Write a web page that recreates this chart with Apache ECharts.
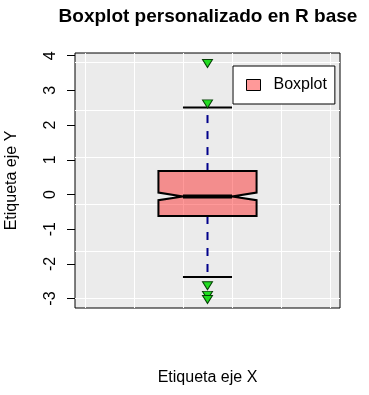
<!DOCTYPE html>
<html>
<head>
<meta charset="utf-8">
<script src="https://cdn.jsdelivr.net/npm/echarts@6/dist/echarts.min.js"></script>
<style>
html, body { margin: 0; padding: 0; background: #fff; }
#main { width: 369px; height: 395px; }
</style>
</head>
<body>
<div id="main"></div>
<script>
// datos
var groups = ['Boxplot'];
var boxStats = [-2.38, -0.62, -0.055, 0.675, 2.505]; // bigote inf, q1, mediana, q3, bigote sup
var notchLimits = [-0.165, 0.055];
var outliers = [3.806, 2.64, -2.60, -2.88, -3.0];
var yTicks = [-3, -2, -1, 0, 1, 2, 3, 4];
var hGrid = [-3.0, -1.639, -0.278, 1.083, 2.445, 3.806];
var vGrid = [0.5, 0.7, 0.9, 1.1, 1.3, 1.5];

var dom = document.getElementById('main');
var myChart = echarts.init(dom, null, { renderer: 'canvas' });

var boxData = [[1].concat(boxStats, notchLimits)];
var outlierData = outliers.map(function (v) { return [1, v]; });

function renderBox(params, api) {
    var x = api.value(0);
    var lo = api.value(1), q1 = api.value(2), med = api.value(3), q3 = api.value(4), hi = api.value(5);
    var n1 = api.value(6), n2 = api.value(7);
    var w = 0.2;
    function pt(dx, y) { return api.coord([x + dx, y]); }
    var poly = [pt(-w, q1), pt(w, q1), pt(w, n1), pt(w / 2, med), pt(w, n2),
                pt(w, q3), pt(-w, q3), pt(-w, n2), pt(-w / 2, med), pt(-w, n1)];
    var whisk = { stroke: '#00008B', lineWidth: 2, lineDash: [8, 8] };
    var cap = { stroke: '#000', lineWidth: 2 };
    function seg(a, b, style) {
        return { type: 'line', shape: { x1: a[0], y1: a[1], x2: b[0], y2: b[1] }, style: style };
    }
    var mL = pt(-w / 2, med), mR = pt(w / 2, med);
    return {
        type: 'group',
        children: [
            seg(pt(0, q3), pt(0, hi), whisk),
            seg(pt(0, q1), pt(0, lo), whisk),
            seg(pt(-w / 2, hi), pt(w / 2, hi), cap),
            seg(pt(-w / 2, lo), pt(w / 2, lo), cap),
            { type: 'polygon', shape: { points: poly },
              style: { fill: 'rgba(255,0,0,0.4)', stroke: '#000', lineWidth: 2 } },
            { type: 'rect', shape: { x: mL[0], y: mL[1] - 2, width: mR[0] - mL[0], height: 4 },
              style: { fill: '#000' } }
        ]
    };
}

var option = {
    animation: false,
    textStyle: { fontFamily: 'Liberation Sans', color: '#000' },
    graphic: [{
        type: 'text',
        x: 208, y: 7,
        style: {
            text: 'Boxplot personalizado en R base',
            fontFamily: 'Liberation Sans', fontSize: 19, fontWeight: 'bold',
            fill: '#000', align: 'center', verticalAlign: 'top'
        }
    }],
    legend: {
        data: [{ name: groups[0], icon: 'rect' }],
        left: 233, top: 66, z: 10,
        backgroundColor: '#fff', borderColor: '#000', borderWidth: 1, borderRadius: 0,
        padding: [11, 8, 11, 13],
        itemWidth: 14, itemHeight: 11,
        itemStyle: { borderColor: '#000', borderWidth: 1 },
        formatter: function (name) { return '{a|' + name + '}'; },
        textStyle: {
            fontSize: 16, color: '#000',
            rich: { a: { fontSize: 16, color: '#000', padding: [0, 0, 0, 8] } }
        },
        selectedMode: false
    },
    grid: {
        left: 75, top: 53, right: 29, bottom: 87,
        outerBoundsMode: 'none', containLabel: false,
        show: true, backgroundColor: '#EBEBEB', borderColor: '#000', borderWidth: 1
    },
    xAxis: {
        type: 'value', min: 0.46, max: 1.54,
        axisLine: { show: false }, axisTick: { show: false },
        axisLabel: { show: false }, splitLine: { show: false },
        name: 'Etiqueta eje X', nameLocation: 'middle', nameGap: 62,
        nameTextStyle: { fontSize: 16, color: '#000' }
    },
    yAxis: {
        type: 'value', min: -3.272, max: 4.078,
        axisLine: { show: false },
        axisTick: { show: true, length: 8, customValues: yTicks, lineStyle: { color: '#000' } },
        axisLabel: { customValues: yTicks, rotate: 90, margin: 16, fontSize: 16, color: '#000' },
        splitLine: { show: false },
        name: 'Etiqueta eje Y', nameLocation: 'middle', nameGap: 55, nameRotate: 90,
        nameTextStyle: { fontSize: 16, color: '#000' }
    },
    series: [
        {
            type: 'line', data: [], z: 1, silent: true,
            markLine: {
                z: 1, silent: true, symbol: 'none', label: { show: false },
                lineStyle: { color: '#fff', width: 1, type: 'solid' },
                data: hGrid.map(function (v) { return { yAxis: v }; })
                    .concat(vGrid.map(function (v) { return { xAxis: v }; }))
            }
        },
        {
            name: groups[0], type: 'custom', z: 2,
            renderItem: renderBox,
            itemStyle: { color: 'rgba(255,0,0,0.4)', borderColor: '#000' },
            data: boxData
        },
        {
            name: 'outliers', type: 'scatter', z: 3,
            symbol: 'triangle', symbolRotate: 180, symbolSize: [10, 8], symbolOffset: [0, 1],
            itemStyle: { color: '#22DD22', borderColor: '#064006', borderWidth: 1, opacity: 1 },
            data: outlierData
        }
    ]
};

if (option && typeof option === 'object') {
    myChart.setOption(option);
}

window.addEventListener('resize', myChart.resize);
</script>
</body>
</html>
